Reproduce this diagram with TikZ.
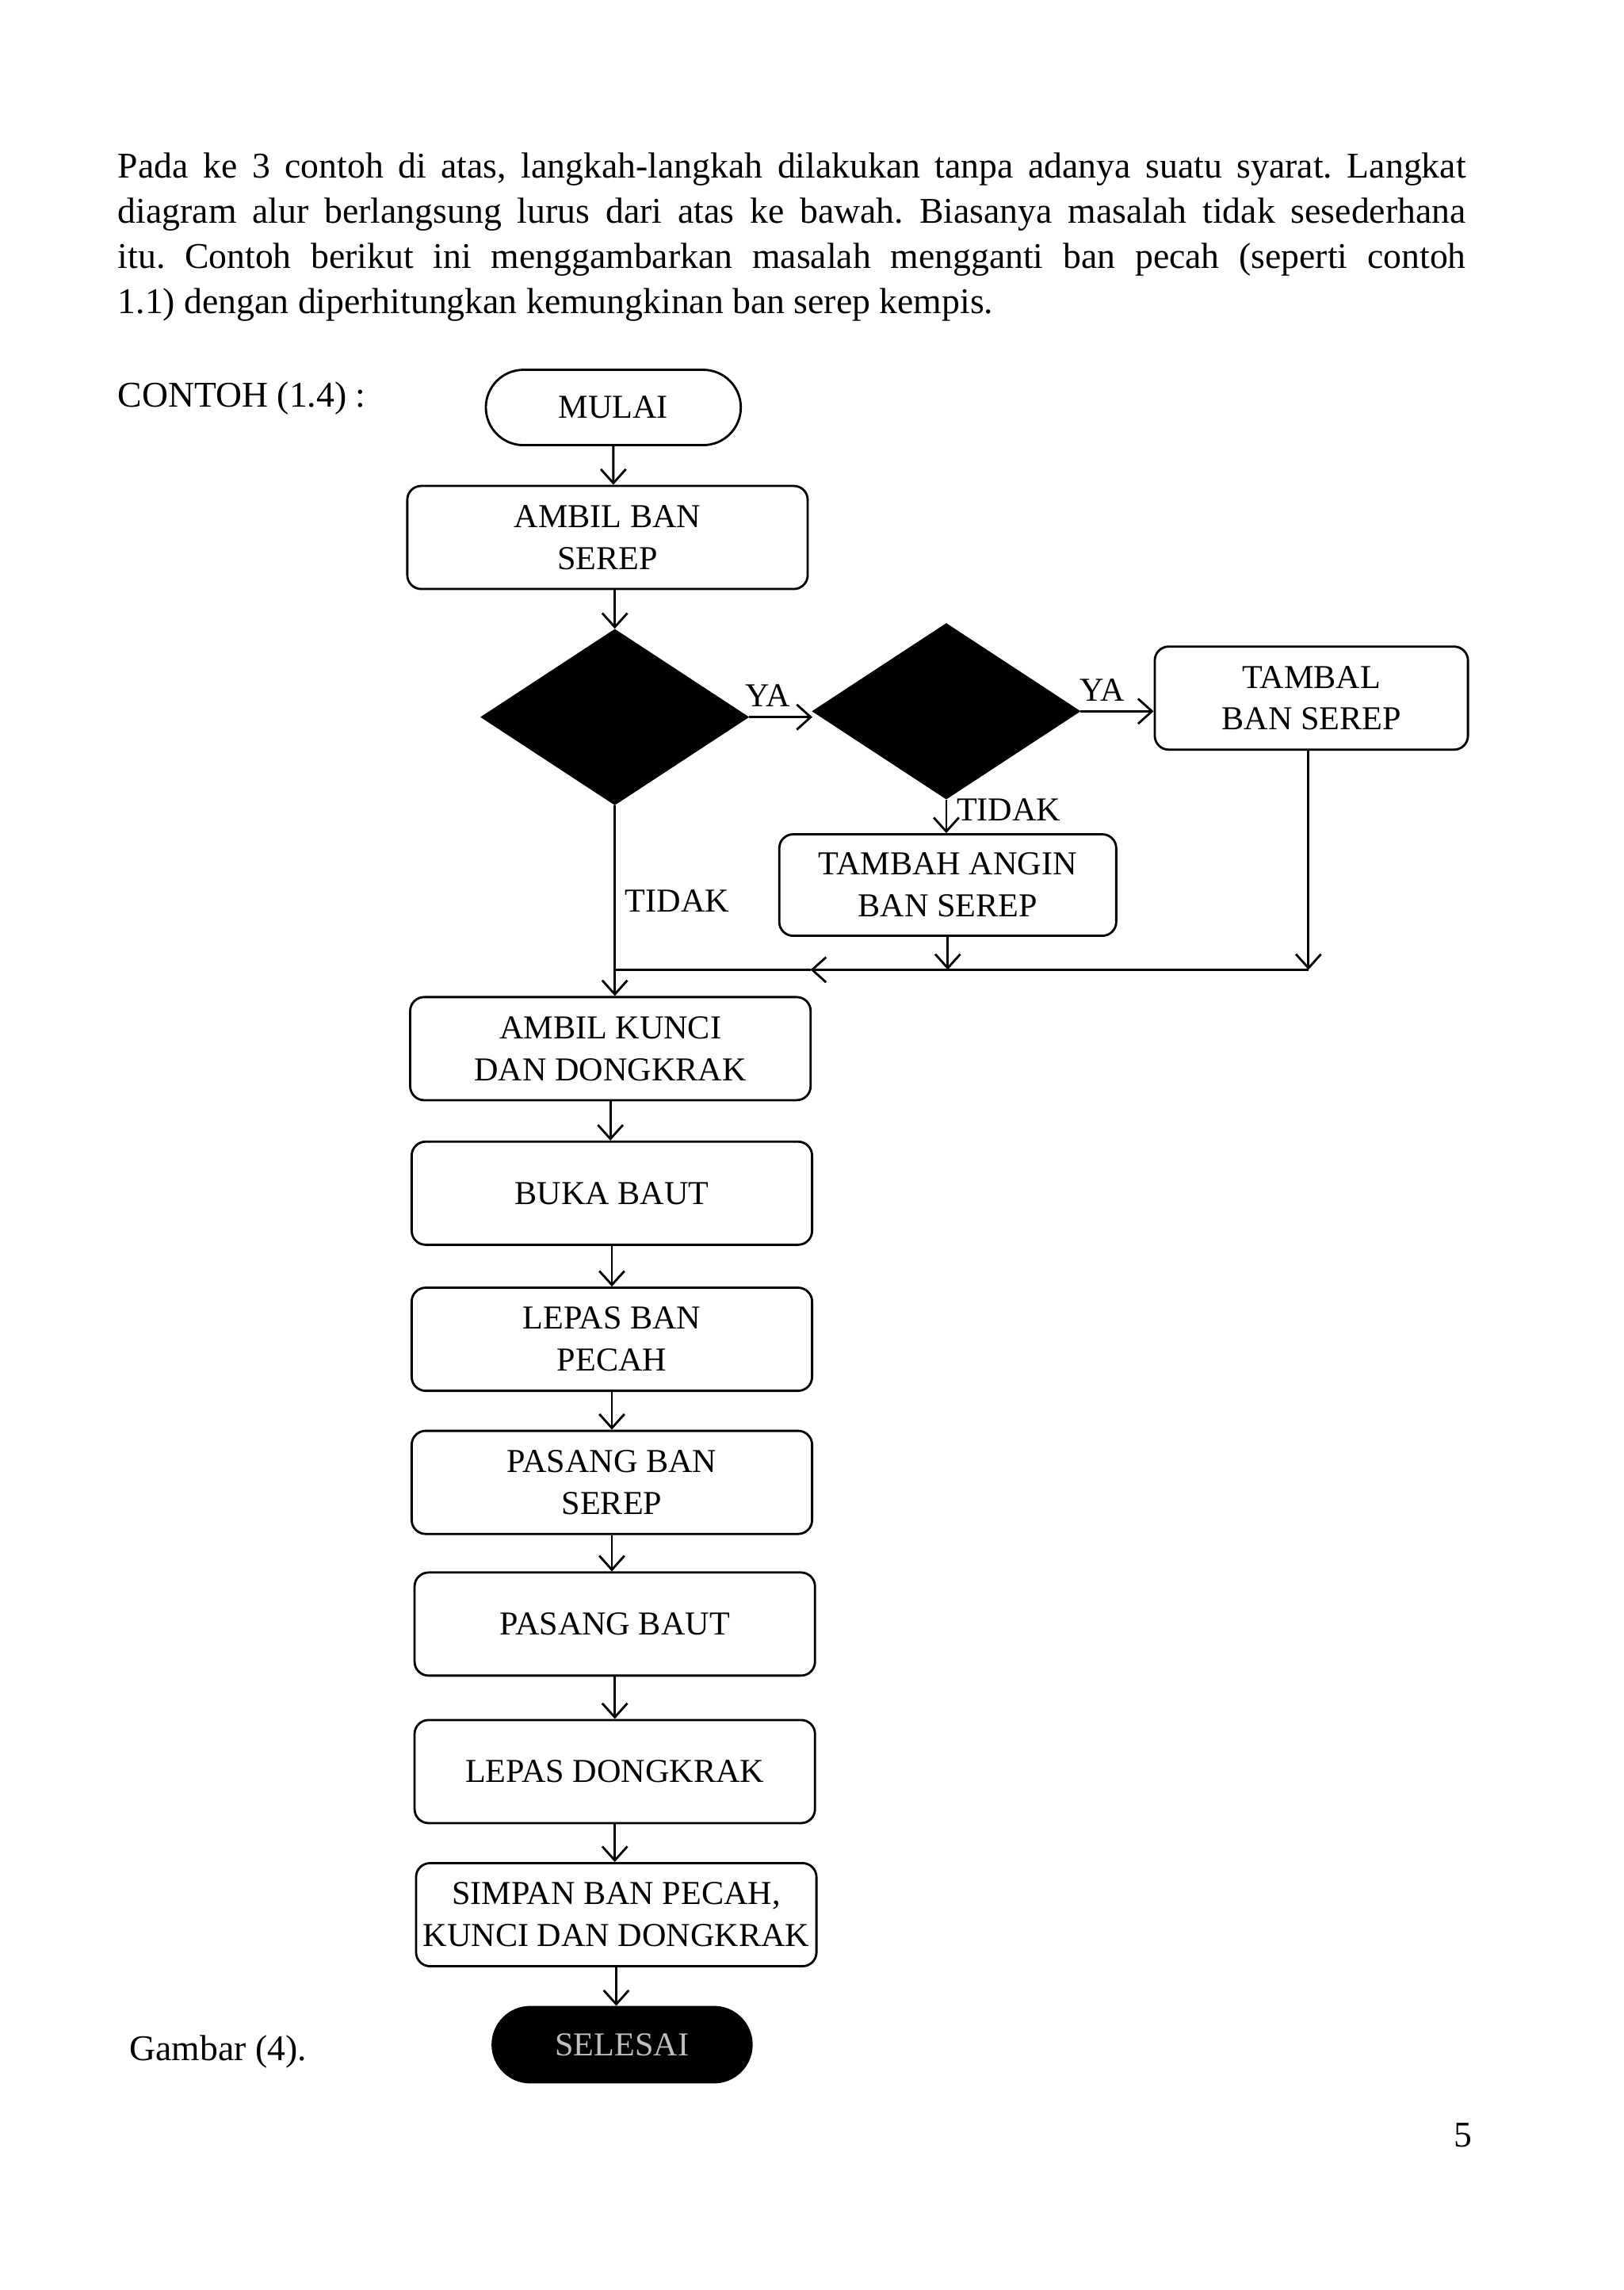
\documentclass[tikz,border=0pt]{standalone}
\usepackage{fontspec}
\setmainfont{Liberation Serif}
\usetikzlibrary{shapes,arrows,arrows.meta,positioning,calc}

\begin{document}
\frenchspacing
\begin{tikzpicture}[x=0.01842cm, y=-0.01842cm, line width=0.8pt,
    >={Straight Barb[length=5pt,width=9pt]},
    box/.style={draw, rounded corners=5pt, minimum width=5.05cm, minimum height=1.3cm, align=center, font=\fontsize{12}{15}\selectfont},
    term/.style={draw, rounded rectangle, minimum width=3.45cm, minimum height=0.95cm, font=\fontsize{12}{15}\selectfont},
    dec/.style={draw, diamond, fill=black, minimum width=3.35cm, minimum height=2.2cm, inner sep=0pt},
    lbl/.style={font=\fontsize{12}{15}\selectfont}]
    \useasboundingbox (0,0) rectangle (1112,1568);

    \node[anchor=north west, text width=17cm, align=justify, inner sep=0pt, font=\fontsize{13}{16.2}\selectfont] (para) at (80,104)
      {Pada ke 3 contoh di atas, langkah-langkah dilakukan tanpa adanya suatu syarat. Langkat\linebreak diagram alur berlangsung lurus dari atas ke bawah. Biasanya masalah tidak sesederhana\linebreak itu. Contoh berikut ini menggambarkan masalah mengganti ban pecah (seperti contoh\linebreak 1.1) dengan diperhitungkan kemungkinan ban serep kempis.};
    \node[anchor=west, inner sep=0pt, font=\fontsize{13}{16}\selectfont] (contoh) at (80,273) {CONTOH (1.4) :};

    \node[term] (mulai) at (420,279) {MULAI};
    \node[box] (ambil) at (416,368) {AMBIL BAN\\SEREP};
    \node[dec] (d1) at (421,491) {};
    \node[dec] (d2) at (648,487) {};
    \node[box, minimum width=3.95cm] (tambal) at (898,478) {TAMBAL\\BAN SEREP};
    \node[box, minimum width=4.25cm, minimum height=1.28cm] (angin) at (649,606) {TAMBAH ANGIN\\BAN SEREP};
    \node[box] (kunci) at (418,718) {AMBIL KUNCI\\DAN DONGKRAK};
    \node[box] (buka) at (419,817) {BUKA BAUT};
    \node[box] (lepas) at (419,917) {LEPAS BAN\\PECAH};
    \node[box] (pasang) at (419,1015) {PASANG BAN\\SEREP};
    \node[box] (baut) at (421,1112) {PASANG BAUT};
    \node[box] (dongkrak) at (421,1213) {LEPAS DONGKRAK};
    \node[box, inner xsep=1pt] (simpan) at (422,1311) {SIMPAN BAN PECAH,\\KUNCI DAN DONGKRAK};
    \node[term, fill=black, text=white!75!black, minimum width=3.5cm] (selesai) at (426,1400) {SELESAI};

    \coordinate (m) at (421,664);
    \coordinate (mr) at (896,664);
    \coordinate (ml) at (555,664);

    \draw[->] (mulai) -- (mulai |- ambil.north);
    \draw[->] (ambil.south -| d1) -- (d1.north);
    \draw[->] (d1.east) -- node[lbl, above, pos=0.3] {YA} (d1.east -| d2.west);
    \draw[->] (d2.east) -- node[lbl, above, pos=0.3] {YA} (d2.east -| tambal.west);
    \draw[->] (d2) -- node[lbl, right, pos=0.3] {TIDAK} (d2 |- angin.north);
    \draw[->] (d1) -- node[lbl, right, pos=0.5] {TIDAK} (d1 |- kunci.north);
    \draw[->] (tambal.south -| mr) -- (mr);
    \draw[->] (mr) -- (ml);
    \draw (ml) -- (m);
    \draw[->] (angin) -- (angin |- m);
    \draw[->] (kunci) -- (kunci |- buka.north);
    \draw[->] (buka) -- (buka |- lepas.north);
    \draw[->] (lepas) -- (lepas |- pasang.north);
    \draw[->] (pasang) -- (pasang |- baut.north);
    \draw[->] (baut) -- (baut |- dongkrak.north);
    \draw[->] (dongkrak) -- (dongkrak |- simpan.north);
    \draw[->] (simpan) -- (simpan |- selesai.north);

    \node[anchor=west, inner sep=0pt, font=\fontsize{13}{16}\selectfont] (gambar) at (88,1405) {Gambar (4).};
    \node[font=\fontsize{13}{16}\selectfont] (hal) at (1002,1462) {5};
\end{tikzpicture}
\end{document}
